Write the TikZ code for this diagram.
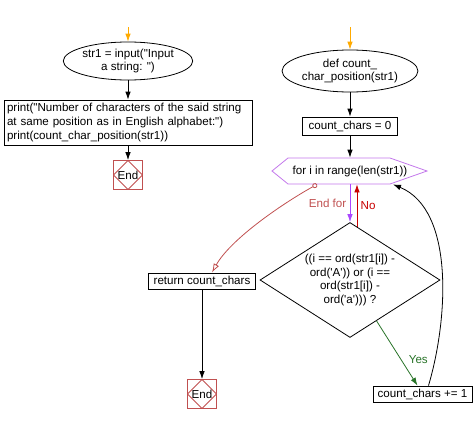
\documentclass[tikz,border=0pt]{standalone}
\usepackage{fontspec}
\newfontfamily\flowfont{Liberation Sans}
\usetikzlibrary{shapes.geometric,arrows.meta}
\definecolor{startorange}{RGB}{255,170,0}
\definecolor{endred}{RGB}{192,80,80}
\definecolor{forviolet}{RGB}{195,120,235}
\definecolor{loopviolet}{RGB}{170,70,255}
\definecolor{nored}{RGB}{200,0,0}
\definecolor{yesgreen}{RGB}{40,115,40}
\begin{document}
\begin{tikzpicture}[x=1pt,y=-1pt,line width=0.8pt,
  every node/.style={font=\flowfont\fontsize{11.6}{13.6}\selectfont},
  term/.style={draw,ellipse,inner sep=0pt,align=center},
  proc/.style={draw,rectangle,inner sep=2pt},
  stop/.style={draw=endred,rectangle,minimum width=29pt,minimum height=29pt,inner sep=0pt,
    path picture={\draw[endred] (path picture bounding box.north) -- (path picture bounding box.east)
      -- (path picture bounding box.south) -- (path picture bounding box.west) -- cycle;}},
  flow/.style={-{Latex[length=8pt,width=5.5pt]}}]
\useasboundingbox (0,0) rectangle (474,423);
\coordinate (s1) at (128,27);
\coordinate (s2) at (350,27);
\node[term,minimum width=116pt,minimum height=38pt] (input) at (128,61) {str1 = input("Input\\a string: ")};
\node[proc,inner sep=3pt,text width=242pt,align=left,minimum height=45pt] (show) at (128,122.5)
  {print("Number of characters of the said string\\at same position as in English alphabet:")\\print(count\_char\_position(str1))};
\node[stop] (end1) at (128,175) {End};
\node[term,minimum width=118pt,minimum height=42pt] (func) at (350,71) {def count\_\\char\_position(str1)};
\node[proc,minimum width=95pt,minimum height=18pt] (init) at (350,126) {count\_chars = 0};
\node[minimum width=155pt,minimum height=26pt] (loop) at (350,171) {for i in range(len(str1))};
\draw[forviolet] (loop.center) ++(-78,0) -- ++(16,-13) -- ++(102,0) -- ++(37,13) -- ++(-37,13) -- ++(-102,0) -- cycle;
\node[draw,diamond,aspect=1.565,minimum width=180pt,minimum height=115pt,inner sep=0pt,align=center] (check) at (350,280)
  {((i == ord(str1[i]) -\\ord('A')) or (i ==\\ord(str1[i]) -\\ord('a'))) ?};
\node[proc,minimum width=107pt,minimum height=16pt] (ret) at (202,281) {return count\_chars};
\node[stop] (end2) at (202,394) {End};
\node[proc,minimum width=99pt,minimum height=16pt] (inc) at (422.5,394) {count\_chars += 1};
\draw[flow,startorange] (s1) -- (input);
\draw[flow,startorange] (s2) -- (func);
\draw[flow] (input) -- (show);
\draw[flow] (show) -- (end1);
\draw[flow] (func) -- (init);
\draw[flow] (init) -- (loop);
\draw[flow,loopviolet] (loop) -- (check) node[pos=0.5,left,text=endred] {End for};
\draw[flow,nored] ([xshift=7pt,yshift=-4.5pt]check.north) -- ([xshift=7pt]loop.south) node[pos=0.5,right] {No};
\draw[endred,{Circle[open,length=5pt]}-{Latex[open,length=9pt,width=6pt]}] ([xshift=-33pt]loop.south)
  .. controls (280,205) and (230,240) .. ([xshift=10pt]ret.north);
\draw[flow,yesgreen] (check.-57) -- ([xshift=-5pt]inc.north) node[pos=0.6,right,xshift=4pt] {Yes};
\draw[flow] ([xshift=6pt]inc.north) .. controls (448,320) and (455,210) .. ([xshift=43pt]loop.south);
\draw[flow] (ret) -- (end2);
\end{tikzpicture}
\end{document}
